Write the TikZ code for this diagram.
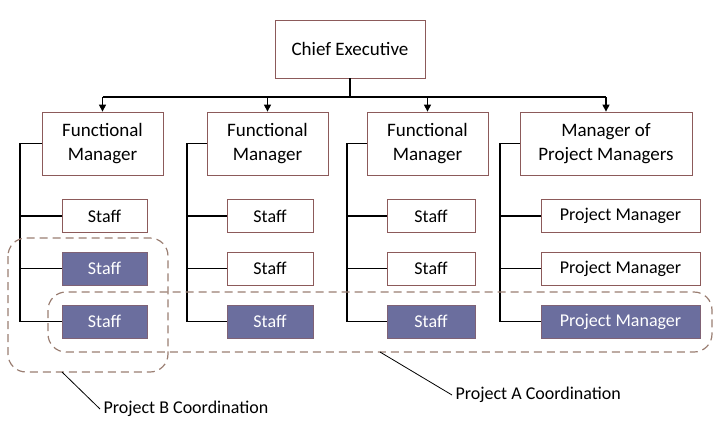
\documentclass[tikz,border=0pt]{standalone}
\usepackage{fontspec}
\setmainfont{Carlito}
\usetikzlibrary{arrows.meta}
\usetikzlibrary{calc}
\definecolor{boxline}{HTML}{8C5A5A}
\definecolor{boxfill}{HTML}{6B6E9E}
\definecolor{dashline}{HTML}{9A7E72}
\begin{document}
\begin{tikzpicture}[x=1pt,y=-1pt]

% Define styles
\tikzset{
    unit/.style={draw=boxline, fill=white, thick, align=center, font=\fontsize{19}{24}\selectfont, inner sep=0pt},
    staff/.style={draw=boxline, fill=white, thick, font=\fontsize{18}{21}\selectfont, inner sep=0pt, minimum height=33pt},
    team/.style={staff, fill=boxfill, draw=boxline!60!boxfill, text=white},
    link/.style={very thick, black},
    down/.style={link, -{Triangle[length=7pt,width=7pt]}},
    coord/.style={draw=dashline, very thick, dashed, dash pattern=on 8pt off 5pt, rounded corners=18pt}
}

% zeige den Teil, der durch die Graphik benutzt wird
\useasboundingbox (0,0) rectangle (724,429);

% top
\node[unit, minimum width=150pt, minimum height=58pt] (CEO) at (350,49) {Chief Executive};

% managers
\node[unit, minimum width=121pt, minimum height=63pt] (FM1) at (102.5,143.5) {Functional\\Manager};
\node[unit, minimum width=121pt, minimum height=63pt] (FM2) at (267.5,143.5) {Functional\\Manager};
\node[unit, minimum width=121pt, minimum height=63pt] (FM3) at (427.5,143.5) {Functional\\Manager};
\node[unit, minimum width=172pt, minimum height=63pt] (MPM) at (606,143.5) {Manager of\\Project Managers};

% staff column 1
\node[staff, minimum width=85pt] (S11) at (104.5,216) {Staff};
\node[team, minimum width=85pt] (S12) at (104.5,268.5) {Staff};
\node[team, minimum width=85pt] (S13) at (104.5,321.5) {Staff};

% staff column 2
\node[staff, minimum width=86pt] (S21) at (270,216) {Staff};
\node[staff, minimum width=86pt] (S22) at (270,268.5) {Staff};
\node[team, minimum width=86pt] (S23) at (270,321.5) {Staff};

% staff column 3
\node[staff, minimum width=88pt] (S31) at (431,216) {Staff};
\node[staff, minimum width=88pt] (S32) at (431,268.5) {Staff};
\node[team, minimum width=88pt] (S33) at (431,321.5) {Staff};

% project managers
\node[staff, minimum width=159pt] (P1) at (620.5,216) {Project Manager};
\node[staff, minimum width=159pt] (P2) at (620.5,268.5) {Project Manager};
\node[team, minimum width=159pt] (P3) at (620.5,321.5) {Project Manager};

% bus from the chief
\coordinate (BUS) at (350,97);
\draw[link] (CEO.south) -- (BUS);
\draw[link] (FM1.north |- BUS) -- (MPM.north |- BUS);
\foreach \m in {FM1,FM2,FM3,MPM}
  \draw[down] (\m.north |- BUS) -- (\m.north);

% side lines to the staff
\foreach \m/\x/\a/\b/\c in {FM1/20/S11/S12/S13, FM2/187/S21/S22/S23, FM3/347/S31/S32/S33, MPM/500/P1/P2/P3}{
  \coordinate (L) at (\x,143.5);
  \draw[link] (\m.west) -- (L) -- (L |- \c.west) -- (\c.west);
  \draw[link] (L |- \a.west) -- (\a.west);
  \draw[link] (L |- \b.west) -- (\b.west);
}

% coordination areas
\draw[coord] (8,238) rectangle (168,372);
\draw[coord] (48,292) rectangle (712,352);

% labels
\node[anchor=west, font=\fontsize{18}{21}\selectfont] (PB) at (100,409) {Project B Coordination};
\node[anchor=west, font=\fontsize{18}{21}\selectfont] (PA) at (452,395) {Project A Coordination};
\coordinate (BB) at (62,372);
\coordinate (AB) at (380,352);
\draw[thick] (BB) -- (PB.west);
\draw[thick] (AB) -- (PA.west);

\end{tikzpicture}
\end{document}
